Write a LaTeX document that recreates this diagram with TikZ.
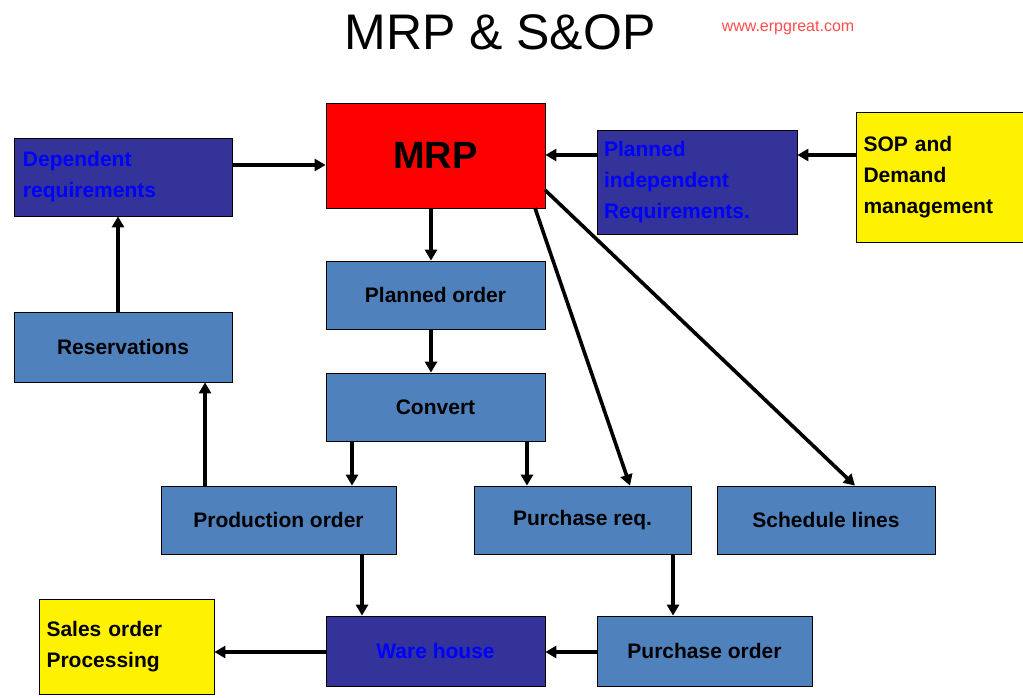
\documentclass[tikz,border=0pt]{standalone}
\usepackage{fontspec}
\setmainfont{Liberation Sans}
\usetikzlibrary{calc,arrows.meta}
\definecolor{dkb}{HTML}{333399}
\definecolor{stb}{HTML}{4F81BD}
\definecolor{txb}{HTML}{0000FF}
\begin{document}
\begin{tikzpicture}[x=1pt,y=-1pt,
 box/.style={draw=black,line width=0.8pt,font=\fontsize{21}{31}\selectfont\bfseries,inner sep=0pt},
 lb/.style={box,fill=stb,align=center},
 db/.style={box,fill=dkb,text=txb,align=left},
 yb/.style={box,fill=yellow,align=left},
 ar/.style={line width=3.6pt,-{Triangle[length=11pt,width=12pt]}}]
\useasboundingbox (0,0) rectangle (1023,697);
\node (t) at (500,32) {\fontsize{50}{52}\selectfont MRP \& S\&OP};
\node[text=red!70!white,font=\fontsize{16}{17}\selectfont] (w) at (788,28) {www.erpgreat.com};
\node[db,minimum width=218,minimum height=78,text width=200] (dep) at (123,177) {Dependent\\requirements};
\node[box,fill=red,minimum width=219,minimum height=105,font=\fontsize{38}{40}\selectfont\bfseries] (mrp) at (435.5,155.5) {MRP};
\node[db,minimum width=200,minimum height=104,text width=186] (pir) at (697,182) {Planned\\independent\\Requirements.};
\node[yb,minimum width=167,minimum height=130,text width=152] (sop) at (939.5,177) {SOP and\\Demand\\management};
\node[lb,minimum width=219,minimum height=68] (po) at (435.5,295) {Planned order};
\node[lb,minimum width=218,minimum height=70] (res) at (123,347) {Reservations};
\node[lb,minimum width=219,minimum height=68] (cv) at (435.5,407) {Convert};
\node[lb,minimum width=235,minimum height=68] (prod) at (278.5,520) {Production order};
\node[lb,minimum width=217,minimum height=68] (pr) at (582.5,520) {Purchase req.};
\node[lb,minimum width=218,minimum height=68] (sl) at (826,520) {Schedule lines};
\node[yb,minimum width=175,minimum height=95,text width=160] (so) at (126.5,646.5) {Sales order\\Processing};
\node[db,minimum width=219,minimum height=70,align=center] (wh) at (435.5,651) {Ware house};
\node[lb,minimum width=215,minimum height=70] (pur) at (704.5,651) {Purchase order};
\draw[ar] (dep.east|-0,165) -- (mrp.west|-0,165);
\draw[ar] (pir.west|-0,155) -- (mrp.east|-0,155);
\draw[ar] (sop.west|-0,155) -- (pir.east|-0,155);
\draw[ar] (mrp.south-|431,0) -- (po.north-|431,0);
\draw[ar] (po.south-|431,0) -- (cv.north-|431,0);
\draw[ar] (cv.south-|352,0) -- (prod.north-|352,0);
\draw[ar] (cv.south-|527,0) -- (pr.north-|527,0);
\draw[ar] (535,208) -- (pr.north-|630,0);
\draw[ar] (545,190) -- (sl.north-|855,0);
\draw[ar] (prod.north-|205,0) -- (res.south-|205,0);
\draw[ar] (res.north-|118,0) -- (dep.south-|118,0);
\draw[ar] (prod.south-|362,0) -- (wh.north-|362,0);
\draw[ar] (pr.south-|673,0) -- (pur.north-|673,0);
\draw[ar] (pur.west|-0,652) -- (wh.east|-0,652);
\draw[ar] (wh.west|-0,652) -- (so.east|-0,652);
\end{tikzpicture}
\end{document}
